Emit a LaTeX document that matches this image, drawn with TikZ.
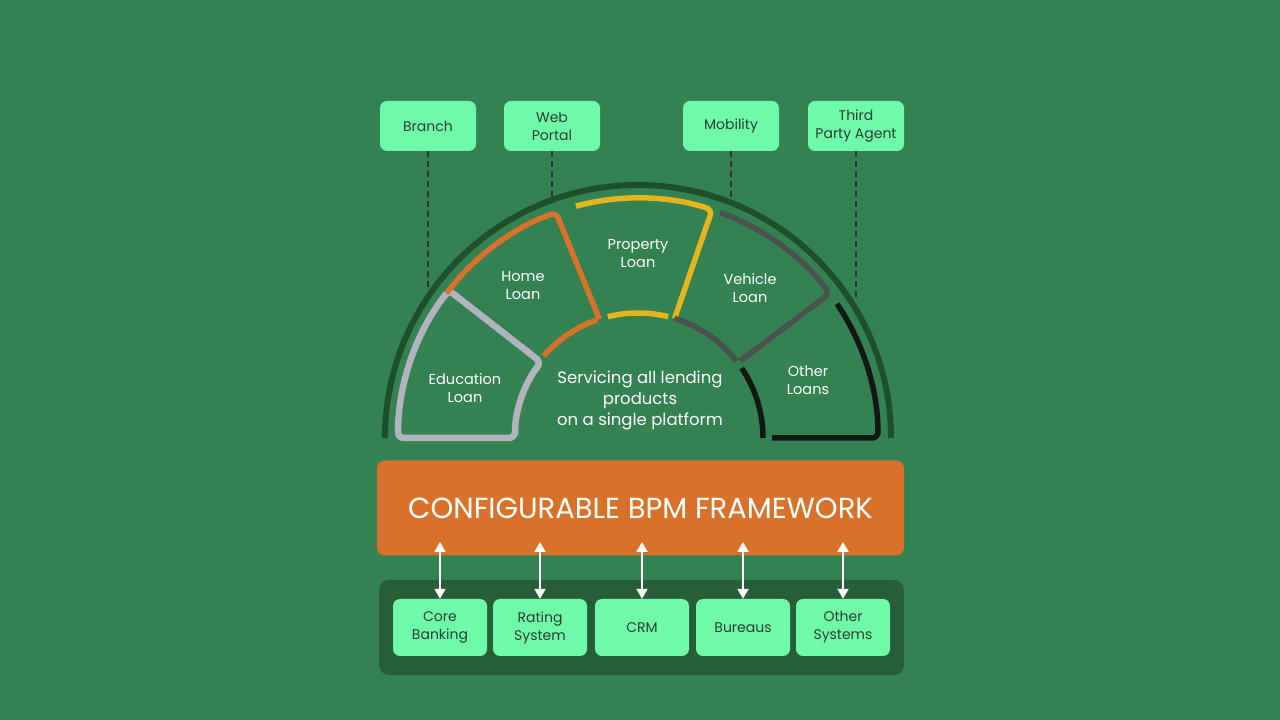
\documentclass[tikz,border=0pt]{standalone}
\usepackage{fontspec}
\setmainfont{Poppins}
\usetikzlibrary{calc,arrows.meta}
\definecolor{bg}{HTML}{348152}
\definecolor{dk}{HTML}{1E4F2B}
\definecolor{panel}{HTML}{285E37}
\definecolor{mint}{HTML}{6FFAA9}
\definecolor{txt}{HTML}{2E3B33}
\definecolor{org}{HTML}{D8712A}
\definecolor{yel}{HTML}{E5B51E}
\definecolor{gry}{HTML}{B1B4BE}
\definecolor{dgy}{HTML}{4A524D}
\definecolor{blk}{HTML}{141815}
\begin{document}
\begin{tikzpicture}[x=1pt,y=1pt,
  topbox/.style={fill=mint,rounded corners=7pt,minimum width=96pt,minimum height=50pt,align=center,text=txt,font=\fontsize{14}{18}\selectfont},
  botbox/.style={fill=mint,rounded corners=7pt,minimum width=94pt,minimum height=57pt,align=center,text=txt,font=\fontsize{14}{18}\selectfont},
  seg/.style={line width=5.5pt,rounded corners=6pt},
  lbl/.style={text=white,align=center,font=\fontsize{14.5}{18}\selectfont},
  dashln/.style={dash pattern=on 6pt off 4pt,line width=1.8pt,draw=black!80},
  dbl/.style={white,line width=2pt,{Triangle[length=10pt,width=11pt]}-{Triangle[length=10pt,width=11pt]}}]
\fill[bg] (0,0) rectangle (1280,720);
\useasboundingbox (0,0) rectangle (1280,720);
\coordinate (C) at (638,282);
% top boxes
\node[topbox] (b1) at (428,594) {Branch};
\node[topbox] (b2) at (552,594) {Web\\Portal};
\node[topbox] (b3) at (731,594) {Mobility};
\node[topbox] (b4) at (856,594) {Third\\Party Agent};
\coordinate (d1) at (428,430);
\coordinate (d2) at (552,523);
\coordinate (d3) at (731,520);
\coordinate (d4) at (856,420);
\draw[dashln] (b1.south) -- (d1);
\draw[dashln] (b2.south) -- (d2);
\draw[dashln] (b3.south) -- (d3);
\draw[dashln] (b4.south) -- (d4);
% outer arc
\draw[dk,line width=6pt] ($(C)+(180:253)$) arc[start angle=180,end angle=0,radius=253];
% education
\draw[seg,gry,line width=6.5pt] ($(C)+(180:123)$) -- ($(C)+(180:240)$) arc[start angle=180,end angle=142,radius=240] -- ($(C)+(142:123)$) arc[start angle=142,end angle=180,radius=123] -- cycle;
% home
\draw[seg,org] ($(C)+(143:240)$) arc[start angle=143,end angle=110,radius=240] -- ($(C)+(108:125)$);
\draw[org,line width=5.5pt] ($(C)+(139:125)$) arc[start angle=139,end angle=109,radius=125];
% property
\draw[seg,yel] ($(C)+(105:240)$) arc[start angle=105,end angle=72,radius=240] -- ($(C)+(73:125)$);
\draw[yel,line width=5.5pt] ($(C)+(104:125)$) arc[start angle=104,end angle=76,radius=125];
% vehicle
\draw[seg,dgy] ($(C)+(70:240)$) arc[start angle=70,end angle=37,radius=240] -- ($(C)+(37:128)$);
\draw[dgy,line width=5.5pt] ($(C)+(73:125)$) arc[start angle=73,end angle=38,radius=125];
% other
\draw[seg,blk] ($(C)+(34:240)$) arc[start angle=34,end angle=0,radius=240] -- ($(C)+(0:134)$);
\draw[blk,line width=5.5pt] ($(C)+(34:125)$) arc[start angle=34,end angle=0,radius=125];
% labels
\node[lbl] (l1) at (465,332) {Education\\Loan};
\node[lbl] (l2) at (523,434) {Home\\Loan};
\node[lbl] (l3) at (638,466) {Property\\Loan};
\node[lbl] (l4) at (750,432) {Vehicle\\Loan};
\node[lbl] (l5) at (808,340) {Other\\Loans};
\node[lbl,font=\fontsize{16.5}{21}\selectfont] (l6) at (640,320) {Servicing all lending\\products\\on a single platform};
% bar
\node[fill=org,rounded corners=8pt,minimum width=527pt,minimum height=95pt,text=white,font=\fontsize{29}{32}\selectfont] (bar) at (640.5,212) {CONFIGURABLE BPM FRAMEWORK};
% panel
\node[fill=panel,rounded corners=10pt,minimum width=525pt,minimum height=95pt] (pan) at (641.5,92.5) {};
\node[botbox] (s1) at (440,92.5) {Core\\Banking};
\node[botbox] (s2) at (540,92.5) {Rating\\System};
\node[botbox] (s3) at (642,92.5) {CRM};
\node[botbox] (s4) at (743,92.5) {Bureaus};
\node[botbox] (s5) at (843,92.5) {Other\\Systems};
\foreach \i/\x in {1/440,2/540,3/642,4/743,5/843}{
  \coordinate (t\i) at (\x,178);
  \draw[dbl] (t\i) -- (s\i.north);
}
\end{tikzpicture}
\end{document}
